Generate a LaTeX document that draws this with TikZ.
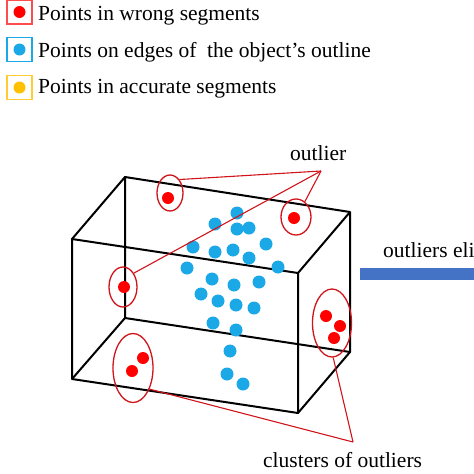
\documentclass[tikz,border=0pt]{standalone}
\usepackage{fontspec}
\setmainfont{Liberation Serif}
\usetikzlibrary{shapes.geometric}

\definecolor{dotred}{HTML}{FF0000}
\definecolor{ringred}{HTML}{D0141B}
\definecolor{dotblue}{HTML}{1BA8E6}
\definecolor{dotyellow}{HTML}{FFC000}
\definecolor{barblue}{HTML}{4472C4}

\tikzset{
  txt/.style={font=\fontsize{21.5}{24}\selectfont, inner sep=0pt, anchor=base west},
  keybox/.style={draw, line width=1.2pt, minimum width=25pt, minimum height=24pt, inner sep=0pt},
  ring/.style={draw=ringred, line width=1.3pt, ellipse, inner sep=0pt},
  edge/.style={line width=2pt, line join=round},
  pointer/.style={ringred, line width=1.1pt}
}

\begin{document}
\begin{tikzpicture}[x=1pt,y=-1pt]
  \useasboundingbox (0,0) rectangle (474,474);
  \clip (0,0) rectangle (474,474);

  % legend
  \node[keybox, draw=dotred!70!white] (keyred) at (19.5,12) {};
  \node[keybox, draw=dotblue] (keyblue) at (19.5,49.5) {};
  \node[keybox, draw=dotyellow!80!white] (keyyellow) at (19.5,87.5) {};
  \fill[dotred] (keyred) circle (6);
  \fill[dotblue] (keyblue) circle (6);
  \fill[dotyellow] (keyyellow) circle (6);
  \node[txt] (labred) at (38,20) {Points in wrong segments};
  \node[txt] (labblue) at (38,57) {Points on edges of\ \ the object’s outline};
  \node[txt] (labyellow) at (38,93) {Points in accurate segments};

  % cube
  \coordinate (b1) at (125,177);
  \coordinate (b2) at (350,212);
  \coordinate (b3) at (350,352);
  \coordinate (b4) at (125,318);
  \coordinate (f1) at (72,239);
  \coordinate (f2) at (298,273);
  \coordinate (f3) at (298,413);
  \coordinate (f4) at (72,379);
  \draw[edge] (b1) -- (b2) -- (b3) -- (b4) -- cycle;
  \draw[edge] (f1) -- (f2) -- (f3) -- (f4) -- cycle;
  \draw[edge] (f1) -- (b1) (f2) -- (b2) (f3) -- (b3) (f4) -- (b4);

  % points on the outline
  \foreach \x/\y in {237/213, 215/224, 237/229, 249/228, 266/244, 193/247,
                     215/252, 233/250, 249/258, 278/267, 187/268, 212/279,
                     234/285, 259/282, 201/294, 218/301, 236/305, 254/308,
                     213/323, 236/330, 230/351, 227/374, 243/384}
    \fill[dotblue] (\x,\y) circle (6.5);

  % outliers
  \foreach \x/\y in {168/198, 294/218, 124/287, 326/316, 340/326, 334/338,
                     143/358, 132/371}
    \fill[dotred] (\x,\y) circle (6);
  \node[ring, minimum width=26pt, minimum height=36pt] (ring1) at (170,193) {};
  \node[ring, minimum width=30pt, minimum height=36pt] (ring2) at (296,217) {};
  \node[ring, minimum width=28pt, minimum height=40pt] (ring3) at (123,287) {};
  \node[ring, minimum width=39pt, minimum height=68pt] (ring4) at (332,323) {};
  \node[ring, minimum width=40pt, minimum height=69pt] (ring5) at (133,368) {};

  \node[txt] (outlier) at (290,160) {outlier};
  \coordinate (tipup) at (321,171);
  \draw[pointer] (tipup) -- (ring1.55);
  \draw[pointer] (tipup) -- (ring2.60);
  \draw[pointer] (tipup) -- (ring3.52);

  \node[txt] (clusters) at (263,467) {clusters of outliers};
  \coordinate (tipdown) at (353,442);
  \draw[pointer] (tipdown) -- (ring5.-52);
  \draw[pointer] (tipdown) -- (ring4.-88);

  % elimination arrow (cut off at the edge)
  \node[txt] (elim) at (383,257) {outliers elimination};
  \fill[barblue] (360,268) rectangle (490,280);
\end{tikzpicture}
\end{document}
